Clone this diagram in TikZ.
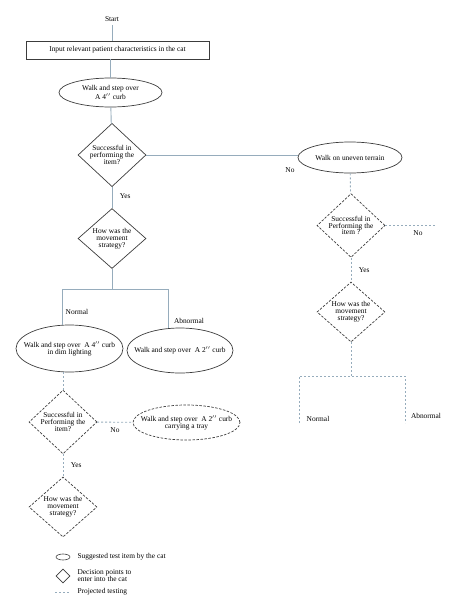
\documentclass[tikz,border=0pt]{standalone}
\usepackage{fontspec}
\setmainfont{Liberation Serif}
\usetikzlibrary{shapes.geometric}
\definecolor{linkblue}{RGB}{150,172,188}
\definecolor{boxgray}{RGB}{60,60,60}
\begin{document}
\begin{tikzpicture}[x=1pt, y=-1pt, font=\fontsize{7.4}{6.9}\selectfont,
	link/.style={linkblue, line width=0.9pt},
	plink/.style={link, dash pattern=on 2pt off 2pt},
	tag/.style={text=black},
	item/.style={ellipse, draw=boxgray, line width=0.7pt, align=center, inner xsep=-10pt, inner ysep=0pt},
	pitem/.style={item, dash pattern=on 2.5pt off 1.5pt},
	choice/.style={diamond, draw=boxgray, line width=0.7pt, align=center, inner sep=0pt, minimum width=68pt, minimum height=60pt},
	pchoice/.style={choice, dash pattern=on 2.5pt off 1.5pt}]
\useasboundingbox (0,0) rectangle (474,613);
% main track
\node (start) at (112,19) {Start};
\node[draw=boxgray, line width=0.7pt, minimum width=183pt, minimum height=18pt, inner sep=0pt] (input) at (117.5,50) {Input relevant patient characteristics in the cat};
\node[item, minimum width=103pt, minimum height=29pt] (walk4) at (110.5,92.5) {Walk and step over\\A 4$''$ curb};
\node[choice] (succ1) at (112,155) {Successful in\\performing the\\item?};
\node[choice] (how1) at (112,238.5) {How was the\\movement\\strategy?};
\node[item, minimum width=107pt, minimum height=47pt] (dim) at (69.5,348.5) {Walk and step over\ \ A 4$''$ curb\\in dim lighting};
\node[item, minimum width=106pt, minimum height=45pt] (step2) at (180,350.5) {Walk and step over\ \ A 2$''$ curb};
\draw[link] (start) -- (start |- input.north);
\draw[link] (walk4.north |- input.south) -- (walk4.north);
\draw[link] (walk4) -- (succ1);
\draw[link] (succ1) -- (how1) node[tag, pos=0.45, right=4pt] {Yes};
\coordinate (jL) at (62,289);
\coordinate (jR) at (168,289);
\draw[link] (how1.south) -- (how1 |- jL);
\draw[link] (jL |- dim.north) -- (jL) -- (jR) -- (jR |- step2.north);
\node at (77,312) {Normal};
\node at (189,321) {Abnormal};
% projected testing, left
\node[pchoice] (succ2) at (63,422) {Successful in\\Performing the\\item?};
\node[pchoice] (how2) at (63,507) {How was the\\movement\\strategy?};
\node[pitem, minimum width=107pt, minimum height=35pt] (tray) at (186.5,422.5) {Walk and step over\ \ A 2$''$ curb\\carrying a tray};
\draw[plink] (dim.south -| succ2) -- (succ2);
\draw[plink] (succ2) -- (tray) node[tag, pos=0.5, below=2pt] {No};
\draw[plink] (succ2) -- (how2) node[tag, pos=0.5, right=4pt] {Yes};
% right track
\node[item, minimum width=104pt, minimum height=31pt] (terrain) at (350,157.5) {Walk on uneven terrain};
\node[pchoice, minimum height=61pt] (succ3) at (351,225.5) {Successful in\\Performing the\\item ?};
\node[pchoice] (how3) at (351,312) {How was the\\movement\\strategy?};
\draw[link] (succ1.east) -- (terrain.west |- succ1.east);
\node at (290,170) {No};
\draw[plink] (terrain) -- (succ3);
\coordinate (noR) at (437,225.5);
\draw[plink] (succ3) -- (noR);
\node at (418,233) {No};
\draw[plink] (succ3) -- (how3) node[tag, pos=0.5, right=4pt] {Yes};
\coordinate (kL) at (299,376);
\coordinate (kR) at (405,376);
\draw[plink] (how3.south) -- (how3 |- kL);
\draw[plink] (kL |- 0,423) -- (kL) -- (kR) -- (kR |- 0,423);
\node at (318,419) {Normal};
\node at (426,416) {Abnormal};
% legend
\node[ellipse, draw=boxgray, line width=0.6pt, minimum width=14pt, minimum height=6pt, inner sep=0pt] (kItem) at (63,557) {};
\node[diamond, draw=boxgray, line width=0.6pt, minimum size=14pt, inner sep=0pt] (kChoice) at (63,576) {};
\coordinate (kDash) at (55,592);
\draw[plink, line width=0.7pt] (kDash) -- ++(14,0);
\node[anchor=west] at (74,557) {Suggested test item by the cat};
\node[anchor=west, align=left] at (74,576) {Decision points to\\enter into the cat};
\node[anchor=west] at (74,592) {Projected testing};
\end{tikzpicture}
\end{document}
